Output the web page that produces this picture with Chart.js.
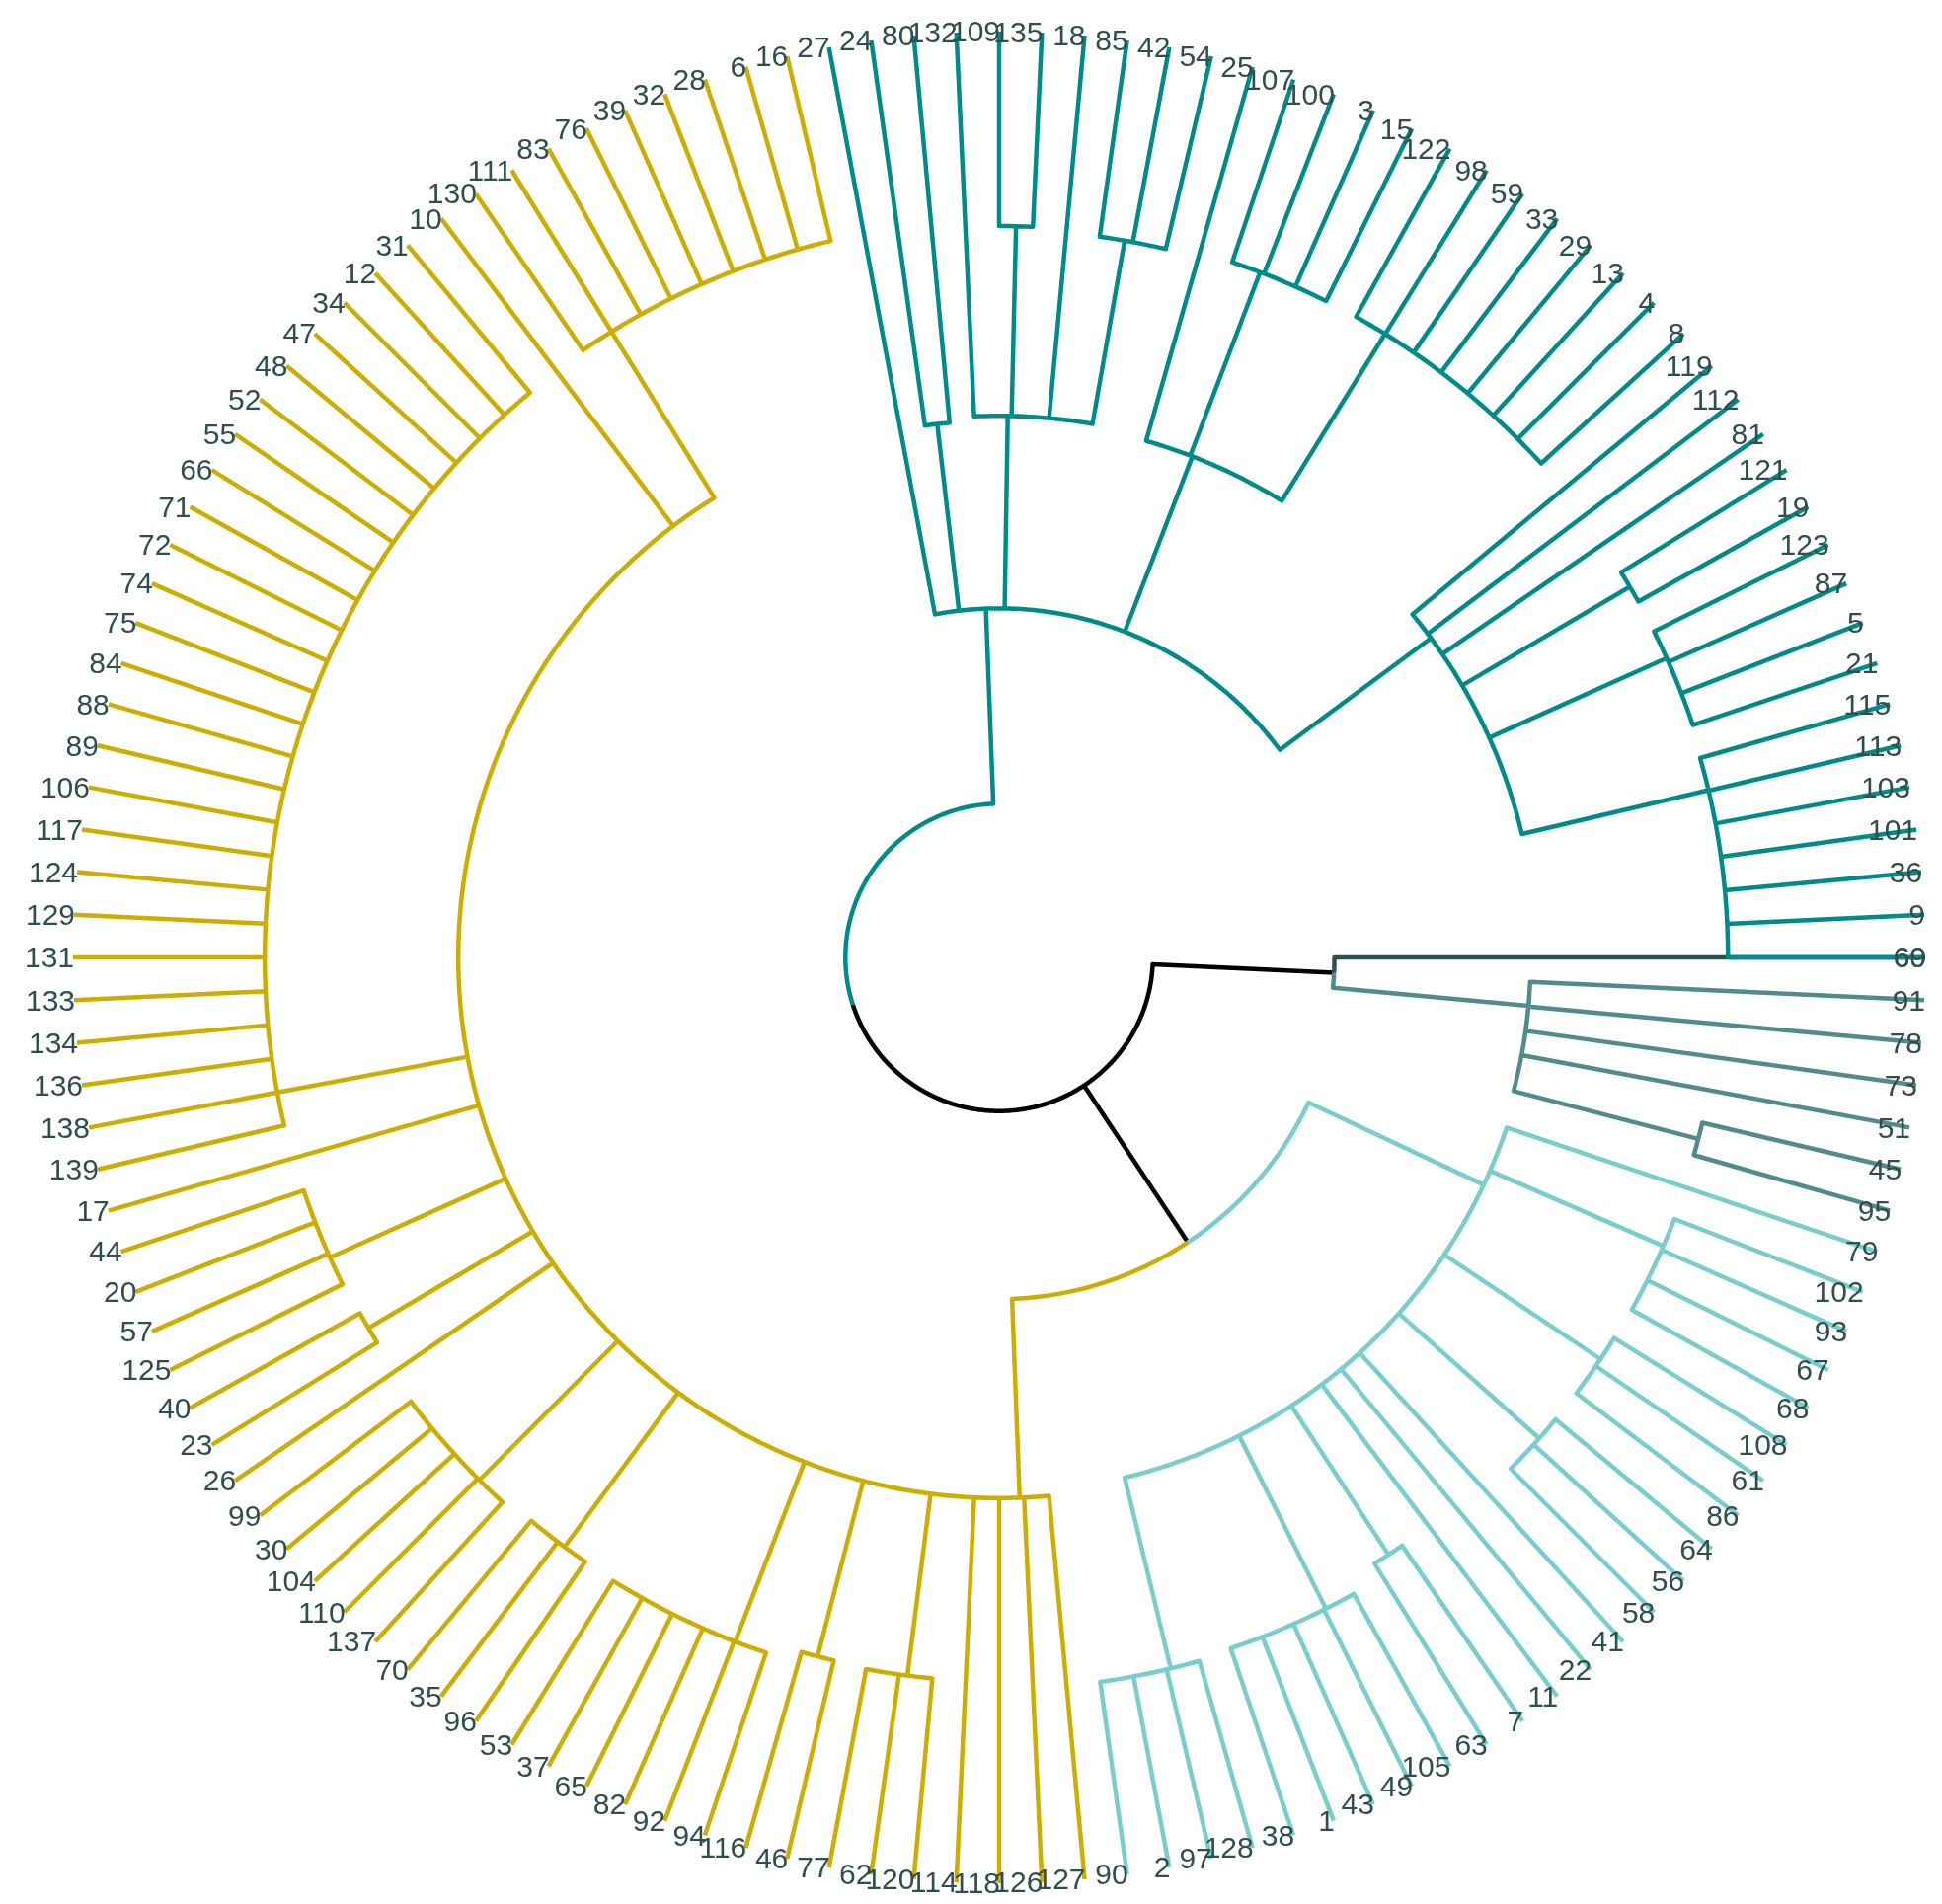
<!DOCTYPE html>
<html>
<head>
<meta charset="utf-8">
<script src="https://cdn.jsdelivr.net/npm/chart.js@4.4.1/dist/chart.umd.min.js"></script>
<style>
  html, body { margin: 0; padding: 0; background: #ffffff; }
</style>
</head>
<body>
<canvas id="tree" width="1967" height="1929"></canvas>
<script>
// Tree data. An internal node is [radius, child, child, ...], a leaf is its label.
// radius = distance from the centre as a fraction of the tip radius.
// ladder(radius, items) nests items one by one at one radius: ((a,b),c) ...
function ladder(radius, items) {
    let node = items[0];
    for (let k = 1; k < items.length; k++) node = [radius, node, items[k]];
    return node;
}

// teal clade
const tealG    = ladder(0.787, ["60", "9", "36", "101", "103", "113", "115"]);
const teal123  = ladder(0.79, ["21", "5", "87", "123"]);
const tealH    = ladder(0.58, [tealG, teal123, [0.79, "19", "121"], "81", "112", "119"]);
const tealF    = ladder(0.792, ["8", "4", "13", "29", "33", "59", "98", "122"]);
const tealE    = ladder(0.792, ["15", "3", "100", "107"]);
const tealD    = ladder(0.58, [tealF, tealE, "25"]);
const teal85   = ladder(0.786, ["54", "42", "85"]);
const teal132  = ladder(0.585, [teal85, "18", [0.79, "135", "109"], "132"]);
const tealClade = ladder(0.377, [tealH, tealD, teal132, [0.58, "80", "24"], "27"]);

// gold clade
const goldU1  = ladder(0.795, ["16", "6", "28", "32", "39", "76", "83", "111", "130"]);
const goldL1  = ladder(0.793, ["31", "12", "34", "47", "48", "52", "55", "66", "71", "72", "74", "75", "84",
                               "88", "89", "106", "117", "124", "129", "131", "133", "134", "136", "138", "139"]);
const gold44  = ladder(0.792, ["44", "20", "57", "125"]);
const gold99  = ladder(0.796, ["99", "30", "104", "110", "137"]);
const gold70  = ladder(0.791, ["70", "35", "96"]);
const gold53  = ladder(0.792, ["53", "37", "65", "82", "92", "94"]);
const gold77  = ladder(0.782, ["77", "62", "120"]);
const goldClade = ladder(0.584, [[0.584, goldU1, "10"], goldL1, "17", gold44, [0.79, "40", "23"], "26",
                                 gold99, gold70, gold53, [0.78, "116", "46"], gold77, "114", "118", "126", "127"]);

// light turquoise clade
const turq90  = ladder(0.79, ["90", "2", "97", "128"]);
const turq38  = ladder(0.787, ["38", "1", "43", "49", "105"]);
const turq58  = ladder(0.781, ["58", "56", "64"]);
const turq108 = ladder(0.781, ["86", "61", "108"]);
const turq102 = ladder(0.782, ["68", "67", "93", "102"]);
const turquoiseClade = ladder(0.578, [turq90, turq38, [0.77, "63", "7"], "11", "22", "41",
                                      turq58, turq108, turq102, "79"]);

// grey clade
const grayClade = ladder(0.574, [[0.78, "95", "45"], "51", "73", "78", "91"]);

// backbone
const treeRoot = [0.166,
    [0.166, tealClade, [0.369, goldClade, turquoiseClade]],
    [0.362, grayClade, "69"]];

const groupColors = {
    teal: '#008B8B',
    gold: '#CDAD00',
    turquoise: '#79CDCD',
    gray: '#528B8B',
    dark: '#2F4F4F',
    mixed: '#000000'
};
const drawOrder = ['teal', 'dark', 'gray', 'turquoise', 'gold', 'mixed'];

// ---- layout ----
const W = 1967, H = 1929;
const CX = 1012, CY = 970;       // centre of the circle, px
const TIP_R = 938;               // tip radius, px

function collect(node, out) {
    if (typeof node === 'string') out.push(node);
    else node.slice(1).forEach(c => collect(c, out));
    return out;
}
const groupOf = {};
[[tealClade, 'teal'], [goldClade, 'gold'], [turquoiseClade, 'turquoise'], [grayClade, 'gray'], ["69", 'dark']]
    .forEach(([clade, g]) => collect(clade, []).forEach(l => { groupOf[l] = g; }));

const leaves = [];
function build(node) {
    if (typeof node === 'string') {
        const leaf = { label: node, r: 1, pos: leaves.length, group: groupOf[node] };
        leaves.push(leaf);
        return leaf;
    }
    const kids = node.slice(1).map(build);
    const pos = kids.reduce((s, k) => s + k.pos, 0) / kids.length;
    const g = kids.every(k => k.group === kids[0].group) ? kids[0].group : 'mixed';
    return { r: node[0], pos: pos, kids: kids, group: g };
}
const tree = build(treeRoot);
const step = 2 * Math.PI / (leaves.length - 1);

function pt(rho, pos) {
    const a = pos * step;
    return { x: TIP_R * rho * Math.cos(a), y: TIP_R * rho * Math.sin(a) };
}

const lines = {};
drawOrder.forEach(g => { lines[g] = []; });

// each edge: arc at the parent's radius, then the radial branch out to the child
function edges(node) {
    if (!node.kids) return;
    node.kids.forEach(kid => {
        const data = lines[kid.group];
        const span = kid.pos - node.pos;
        const n = Math.max(1, Math.ceil(Math.abs(span) * 4));
        for (let i = 0; i <= n; i++) data.push(pt(node.r, node.pos + span * i / n));
        if (kid.r !== node.r) data.push(pt(kid.r, kid.pos));
        data.push({ x: NaN, y: NaN });
        edges(kid);
    });
}
edges(tree);

// ---- tip labels ----
const tipLabels = {
    id: 'tipLabels',
    afterDatasetsDraw(chart) {
        const ctx = chart.ctx;
        const xs = chart.scales.x, ys = chart.scales.y;
        ctx.save();
        ctx.font = '30px "Liberation Sans", Arial, sans-serif';
        ctx.fillStyle = '#2F4F4F';
        ctx.textAlign = 'right';
        ctx.textBaseline = 'middle';
        leaves.forEach(leaf => {
            const p = pt(1, leaf.pos);
            ctx.fillText(leaf.label, xs.getPixelForValue(p.x) + 1, ys.getPixelForValue(p.y) + 2);
        });
        ctx.restore();
    }
};

new Chart(document.getElementById('tree').getContext('2d'), {
    type: 'scatter',
    data: {
        datasets: drawOrder.map((g, i) => ({
            label: g,
            data: lines[g],
            showLine: true,
            spanGaps: false,
            borderColor: groupColors[g],
            borderWidth: 4.5,
            // a solid "dash" keeps Chart.js off its fast path, which merges points sharing an x pixel
            borderDash: [100000, 0],
            borderJoinStyle: 'round',
            borderCapStyle: 'butt',
            pointRadius: 0,
            pointHoverRadius: 0,
            fill: false,
            tension: 0,
            order: i
        }))
    },
    options: {
        responsive: false,
        devicePixelRatio: 1,
        animation: false,
        layout: { padding: 0 },
        plugins: { legend: { display: false }, tooltip: { enabled: false } },
        events: [],
        scales: {
            x: { type: 'linear', display: false, min: -CX, max: W - CX },
            y: { type: 'linear', display: false, min: -(H - CY), max: CY }
        }
    },
    plugins: [tipLabels]
});
</script>
</body>
</html>
